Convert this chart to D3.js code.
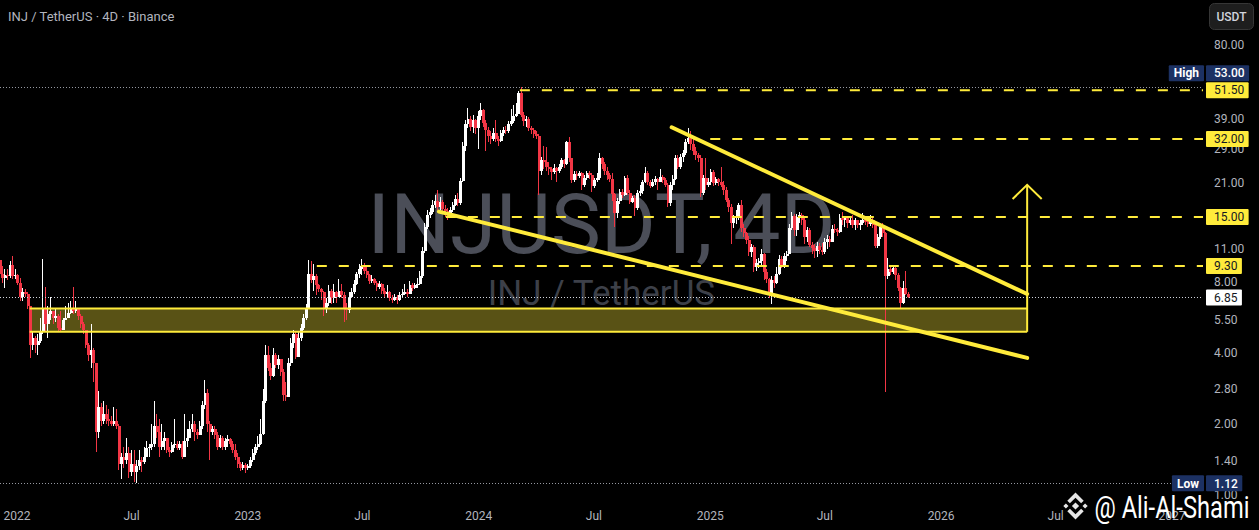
<!DOCTYPE html>
<html><head><meta charset="utf-8">
<script src="https://cdn.jsdelivr.net/npm/d3@7"></script>
<style>html,body{margin:0;padding:0;background:#000;overflow:hidden}text{font-family:Roboto,"Liberation Sans",sans-serif}</style>
</head><body><svg id="c" width="1259" height="530"></svg>
<script>
// ---------------- DATA ----------------
const startDate = "2021-12-05";   // first 4D candle
const stepDays = 4;
const firstOpen = 9.9;
const closes = [
8.6,8.3,8.5,8.4,9.4,8.4,8.5,7.9,6.9,7.2,
7.1,6.3,4.3,4.6,4.3,4.5,4.9,6.1,5.3,5.8,
6.0,5.6,5.7,5.1,5.0,5.5,5.6,5.9,6.2,6.0,
6.1,5.7,5.3,5.0,4.3,3.9,4.1,3.6,1.85,2.35,
2.05,2.2,2.1,2.05,2.0,2.05,1.95,1.35,1.45,1.4,
1.5,1.25,1.35,1.25,1.32,1.4,1.38,1.45,1.58,1.6,
1.65,1.95,1.85,1.6,1.7,1.75,1.55,1.52,1.62,1.65,
1.58,1.64,1.45,1.7,1.75,1.9,2.0,1.85,1.8,1.95,
2.4,2.7,2.0,1.85,1.9,1.8,1.6,1.75,1.6,1.7,
1.72,1.65,1.55,1.45,1.35,1.3,1.34,1.3,1.32,1.4,
1.5,1.6,1.65,1.82,2.5,3.9,3.45,3.2,3.9,3.55,
3.75,3.3,2.65,2.6,3.6,4.4,4.8,3.85,4.6,5.1,
5.6,6.2,8.6,8.1,8.4,7.7,7.4,7.2,6.1,6.5,
7.3,6.8,7.2,6.9,7.3,7.0,6.2,6.05,6.9,7.2,
7.8,8.6,9.0,9.3,8.9,8.5,8.0,8.2,7.9,7.6,
7.8,7.3,7.1,7.2,6.8,6.7,6.9,6.7,7.0,7.1,
7.2,7.1,7.7,7.5,7.7,7.8,8.4,10.8,13.6,15.3,
15.8,16.8,17.5,16.5,17.3,16.2,15.9,15.4,16.1,16.8,
17.8,17.1,21.3,30,37,39,36,38.5,35.5,40,
42.5,37.5,35,33,32,34,32,31.5,34,35,
34.5,37,38,40,41,50,40.5,38,39,35.5,
35,33.5,33,23.5,26,25.5,24.5,23.8,23.2,24.2,
23.5,24.5,26,25,31,26.5,21.5,22.8,22.3,23,
20.5,22,23,22.5,20.2,21.5,22,26.5,25,23.5,
22.5,21.8,18.8,15.6,17.5,19.2,18.5,22,19,17.4,
18,16.3,19,19.3,21,23,21,20.3,21,21.7,
21.1,22.2,21.4,20.5,17.2,20.5,21.8,26.5,24.5,27,
28,31,32.5,30.5,28.5,27.5,26.5,19,22,20.5,
21,23.2,20.8,21.8,21,20.5,19.5,17.7,16.5,14.1,
14.8,15.2,16.8,13.4,12.8,12,10.7,11.2,9.2,9.6,
9.8,10.5,8.8,8.2,7.0,8.1,7.9,8.6,10.0,9.2,
10.3,10.5,13.5,15.2,13.2,15,15.3,14.5,12.3,13.2,
11.4,11.1,10.8,11.3,10.9,10.7,11.7,12.1,11.8,13.3,
13.2,13,14.9,14.5,14.8,14.2,14.6,13.9,14.5,13.9,
14.2,14.6,14.3,14.0,14.6,13.9,11.3,12.3,13.6,12.8,
8.4,9.0,8.8,9.1,8.5,7.5,6.5,7.5,7.1,6.85];
const highs = [
12.9,9.3,9.0,9.0,9.8,10.3,9.0,8.6,8.3,7.5,
7.4,7.2,6.3,4.9,4.7,4.8,5.6,10.0,7.6,6.3,
6.9,6.0,6.2,5.8,6.0,5.6,6.3,6.5,6.6,7.6,
6.6,6.2,5.8,5.4,5.0,4.4,5.3,4.2,3.6,2.75,
2.45,2.5,2.4,2.3,2.15,2.35,2.3,2.0,1.5,1.6,
1.75,1.6,1.55,1.55,1.4,1.55,1.45,1.6,1.7,1.65,
2.0,2.5,2.2,2.1,2.0,1.85,1.75,1.6,1.68,2.1,
1.7,1.7,1.7,2.2,1.9,2.05,2.2,2.05,1.9,2.05,
2.5,3.05,2.8,2.05,1.95,1.95,1.85,1.8,1.78,1.75,
1.8,1.75,1.7,1.65,1.5,1.38,1.38,1.36,1.35,1.45,
1.56,1.65,1.78,2.1,2.8,4.3,4.25,3.6,4.2,4.0,
3.9,3.75,3.4,3.0,3.8,4.6,5.0,4.9,4.9,5.3,
5.8,6.4,9.9,9.8,9.5,8.6,7.8,7.5,7.3,6.8,
7.7,7.4,7.8,7.3,8.2,7.8,7.2,6.5,7.2,7.5,
8.1,8.8,9.5,10.0,9.6,9.3,8.6,8.5,8.3,8.0,
8.0,7.9,7.5,7.7,7.3,7.0,7.1,7.0,7.2,7.4,
7.8,7.4,8.0,7.9,7.9,8.3,8.9,11.2,14.2,16.0,
16.3,17.6,18.5,19.5,18.2,17.6,16.8,16.3,16.5,17.3,
18.6,18.9,22.0,31,38.5,43.3,40,40.5,39,42,
45.5,43,38.5,36,34.5,35.5,38.5,33,35,36,
36.5,38,43,44.5,45.5,51,53,41.5,40,39.5,
36.5,35.5,34.5,33.5,27,30,29.5,25.5,24.5,25,
24.5,25,26.5,26.3,31.5,32.7,26.5,23.5,23.5,23.5,
23.3,22.5,23.5,23.5,23,22,23,28,27,25.5,
24.5,23,23,19,18,19.7,19.6,22.3,22.5,19.5,
18.3,18.5,19.5,20.5,21.5,24.5,23.5,21.5,21.6,22.3,
22,23.8,22.5,22,20.8,21,22.5,27.3,27.5,27.8,
28.8,32,35.5,34.5,33,29.5,28,27.5,22.5,26.6,
22,23.8,23.6,22.2,22,24.5,21.2,20,18,17,
15.3,16,17.2,17.6,14,13,12.5,11.5,11.4,10,
10.1,11,10.6,9.0,8.3,8.4,8.4,9.2,10.4,10.3,
10.6,10.8,14,15.8,15.5,15.5,15.8,15.6,14.8,13.6,
13.5,11.8,11.5,11.8,11.6,11.6,12.2,12.6,12.5,13.8,
14,13.5,15.5,15.8,15.2,15,15,15.3,14.9,14.6,
14.6,15.6,15.2,14.8,15.3,15,14.1,12.7,14,14.2,
13.0,10.1,9.4,9.3,9.4,8.7,7.6,8.0,8.9,7.2];
const lows = [
8.3,7.9,7.5,8.1,8.3,8.2,8.2,7.7,6.6,6.6,
6.9,6.1,3.8,4.1,4.0,3.9,4.4,4.8,4.9,4.6,
5.5,5.3,5.4,4.9,4.9,5.2,5.5,5.6,5.8,5.8,
5.9,5.5,5.1,4.8,4.2,3.7,3.45,3.0,1.52,1.75,
1.95,2.0,2.0,1.95,1.95,1.95,1.9,1.28,1.17,1.3,
1.35,1.18,1.2,1.13,1.12,1.28,1.25,1.35,1.45,1.45,
1.55,1.6,1.75,1.45,1.55,1.55,1.5,1.45,1.5,1.58,
1.55,1.55,1.42,1.45,1.6,1.75,1.85,1.7,1.72,1.8,
1.9,2.3,1.85,1.4,1.8,1.72,1.55,1.58,1.55,1.55,
1.6,1.6,1.5,1.4,1.3,1.26,1.28,1.24,1.27,1.3,
1.38,1.48,1.55,1.62,1.8,2.45,3.35,3.05,3.15,3.45,
3.4,3.2,2.5,2.5,2.6,3.5,4.2,3.75,3.85,4.5,
5.0,5.5,6.1,7.9,7.3,7.0,7.2,6.7,5.7,5.9,
6.3,6.4,6.5,6.5,6.9,6.8,5.4,5.5,5.9,6.8,
7.1,7.7,8.3,8.5,8.6,8.3,7.8,7.9,7.7,7.3,
7.4,7.1,6.8,6.9,6.6,6.5,6.6,6.4,6.6,6.9,
7.0,6.9,7.1,7.3,7.4,7.5,7.7,8.3,10.6,13.3,
14.8,15.4,16.3,16.0,16.1,15.7,15.0,14.6,15.0,15.8,
16.6,16.7,16.9,21,28.5,35.5,34.5,34,33.5,29,
38.5,36,28.5,31,30.5,31.5,31,30,31,33,
33.5,34,36.5,37.5,39.5,41,39.5,36.5,36,34.5,
33.5,32.5,32,18.5,22.5,24,23.5,22.5,21.5,22.8,
21,23,24,24.2,24.8,25.5,20.8,21,21.5,22,
19.5,20,21.5,21.8,19.2,19.8,21,21.5,24,22.5,
21.5,21,17.5,13.6,14.8,17,18,18.3,18.5,17,
17.2,15.1,16,18.4,18.8,20.8,20.5,19.8,20,20.5,
19.5,21,20.8,20,16.5,16.6,19.5,21.5,24,24,
25.5,27.5,30.5,28.8,27.5,26,25.5,18.2,18.5,19.5,
20,20.5,20.3,20.5,20.3,20,18.5,17.3,15.8,11.5,
13.5,14,14.6,13,12.3,11.5,10.3,10.2,8.8,8.9,
9.1,9.4,8.1,7.9,6.8,6.4,7.5,7.8,8.5,9.1,
9.1,9.8,10.5,13.2,12.4,12.5,14.2,13.8,11.5,11.8,
11.2,10.5,10.1,10.2,10.5,10.4,10.5,11,11.2,11.8,
12.8,12.5,12.8,13.8,13.6,13.5,13.9,13.4,13.2,13.4,
13.2,13.9,13.8,13.6,13.7,13.4,11.1,11.1,12.1,12.3,
2.73,8.2,8.5,8.6,8.1,7.3,6.1,6.4,7.0,6.8];

const priceTicks = [80, 39, 29, 21, 11, 8, 5.5, 4, 2.8, 2, 1.4, 1];
const timeTickDates = ["2022-01-01","2022-07-01","2023-01-01","2023-07-01","2024-01-01","2024-07-01","2025-01-01","2025-07-01","2026-01-01","2026-07-01","2027-01-01"];
const timeTickLabels = ["2022","Jul","2023","Jul","2024","Jul","2025","Jul","2026","Jul","2027"];

// horizontal levels drawn on the chart: price and the date where each starts
const levelPrices = [51.5, 32, 15, 9.3];
const levelStarts = ["2024-03-06", "2025-01-01", "2023-11-10", "2023-04-20"];
// support zone
const zoneLow = 4.9, zoneHigh = 6.15, zoneStart = "2022-01-21", zoneEnd = "2026-05-17";
// trendlines [date, price]
const upperTrend = [["2024-11-01", 35.9], ["2026-05-17", 7.08]];
const lowerTrend = [["2023-10-30", 15.8], ["2026-05-17", 3.8]];
// target arrow
const arrowDate = "2026-05-17", arrowFrom = 4.9, arrowTip = 20.5, arrowWing = 17.86, arrowWingDays = 23;
const highPrice = 53.00, lowPrice = 1.12, lastPrice = 6.85;

// ---------------- CHART ----------------
const W = 1259, H = 530, plotRight = 1203, plotBottom = 503;
const YEL = "#ffeb3b";
const parse = d3.utcParse("%Y-%m-%d");
const svg = d3.select("#c");
const x = d3.scaleUtc().domain([parse("2022-01-01"), parse("2027-01-01")]).range([17, 1172]);
const y = d3.scaleLog().domain([1, 80]).range([495, 45]);

const t0 = parse(startDate);
const candles = closes.map((c, i) => {
  const o = i ? closes[i - 1] : firstOpen;
  return { d: d3.utcDay.offset(t0, i * stepDays), o, c,
           h: Math.max(highs[i], o, c), l: Math.min(lows[i], o, c) };
});

svg.append("rect").attr("width", W).attr("height", H).attr("fill", "#000");
svg.append("defs").append("clipPath").attr("id", "plot")
  .append("rect").attr("x", 0).attr("y", 0).attr("width", plotRight).attr("height", plotBottom);

// watermark
const cx = plotRight / 2;
svg.append("text").attr("x", cx).attr("y", 253).attr("text-anchor", "middle")
  .attr("font-size", 84).attr("fill", "#4b4e58").text("INJUSDT, 4D");
svg.append("text").attr("x", cx).attr("y", 305).attr("text-anchor", "middle")
  .attr("font-size", 35).attr("fill", "#3d4049").text("INJ / TetherUS");

const plot = svg.append("g").attr("clip-path", "url(#plot)");

// zone fill
plot.append("rect")
  .attr("x", x(parse(zoneStart))).attr("width", x(parse(zoneEnd)) - x(parse(zoneStart)))
  .attr("y", y(zoneHigh)).attr("height", y(zoneLow) - y(zoneHigh))
  .attr("fill", YEL).attr("fill-opacity", 0.35);

// candles
const cg = plot.append("g").attr("shape-rendering", "crispEdges");
const col = d => d.c >= d.o ? "#ffffff" : "#f23645";
cg.selectAll("rect.w").data(candles).join("rect").attr("class", "w")
  .attr("x", d => Math.round(x(d.d) - 0.5)).attr("width", 1)
  .attr("y", d => y(d.h)).attr("height", d => Math.max(1, y(d.l) - y(d.h)))
  .attr("fill", col);
cg.selectAll("rect.b").data(candles).join("rect").attr("class", "b")
  .attr("x", d => Math.round(x(d.d) - 1.25)).attr("width", 2.5)
  .attr("y", d => y(Math.max(d.o, d.c)))
  .attr("height", d => Math.max(1, y(Math.min(d.o, d.c)) - y(Math.max(d.o, d.c))))
  .attr("fill", col);

// dotted high / low / last lines
[[highPrice, "#9598a1"], [lowPrice, "#9598a1"], [lastPrice, "#d1d4dc"]].forEach(([p, c]) => {
  plot.append("line").attr("x1", 0).attr("x2", plotRight).attr("y1", Math.round(y(p)) + 0.5).attr("y2", Math.round(y(p)) + 0.5)
    .attr("stroke", c).attr("stroke-width", 1).attr("stroke-dasharray", "1,2");
});

// dashed yellow levels
levelPrices.forEach((p, i) => {
  plot.append("line").attr("x1", x(parse(levelStarts[i]))).attr("x2", plotRight)
    .attr("y1", y(p)).attr("y2", y(p)).attr("stroke", YEL).attr("stroke-width", 2)
    .attr("stroke-dasharray", "10,12");
});

// zone borders
const zx1 = x(parse(zoneStart)), zx2 = x(parse(zoneEnd));
[zoneHigh, zoneLow].forEach(p => plot.append("line").attr("x1", zx1).attr("x2", zx2)
  .attr("y1", y(p)).attr("y2", y(p)).attr("stroke", YEL).attr("stroke-width", 2));

// arrow
const ad = parse(arrowDate);
plot.append("line").attr("x1", x(ad)).attr("x2", x(ad)).attr("y1", y(arrowFrom)).attr("y2", y(arrowTip))
  .attr("stroke", YEL).attr("stroke-width", 2);
plot.append("path").attr("fill", "none").attr("stroke", YEL).attr("stroke-width", 2)
  .attr("d", d3.line()([[x(d3.utcDay.offset(ad, -arrowWingDays)), y(arrowWing)], [x(ad), y(arrowTip)],
                        [x(d3.utcDay.offset(ad, arrowWingDays)), y(arrowWing)]]));

// trendlines
[upperTrend, lowerTrend].forEach(tl => {
  plot.append("line")
    .attr("x1", x(parse(tl[0][0]))).attr("y1", y(tl[0][1]))
    .attr("x2", x(parse(tl[1][0]))).attr("y2", y(tl[1][1]))
    .attr("stroke", YEL).attr("stroke-width", 4).attr("stroke-linecap", "round");
});

// price axis labels
const ax = svg.append("g");
ax.selectAll("text").data(priceTicks).join("text")
  .attr("x", 1214).attr("y", d => y(d)).attr("dy", "0.35em")
  .attr("font-size", 12).attr("fill", "#b2b5be").text(d => d.toFixed(2));

function valueBox(p, yc, fill, textFill, bold) {
  const g = svg.append("g");
  const r = g.append("rect").attr("x", 1206).attr("y", yc - 8).attr("height", 16).attr("fill", fill).attr("rx", 1);
  const t = g.append("text").attr("x", 1214).attr("y", yc).attr("dy", "0.35em")
    .attr("font-size", 12).attr("fill", textFill).attr("font-weight", bold ? 500 : 400).text(p.toFixed(2));
  r.attr("width", t.node().getComputedTextLength() + 12.5);
}
function sideBox(label, yc) {
  const g = svg.append("g");
  const r = g.append("rect").attr("y", yc - 8).attr("height", 16).attr("fill", "#1c3163").attr("rx", 1);
  const t = g.append("text").attr("x", 1199).attr("y", yc).attr("dy", "0.35em").attr("text-anchor", "end")
    .attr("font-size", 12).attr("font-weight", 700).attr("fill", "#fff").text(label);
  const w = t.node().getComputedTextLength() + 10;
  r.attr("x", 1204 - w).attr("width", w);
}
levelPrices.forEach(p => valueBox(p, y(p), YEL, "#131722", false));
valueBox(lastPrice, y(lastPrice), "#ffffff", "#131722", false);
const highY = Math.min(y(highPrice), y(levelPrices[0]) - 17);
valueBox(highPrice, highY, "#1c3163", "#ffffff", true);
sideBox("High", highY);
valueBox(lowPrice, y(lowPrice), "#1c3163", "#ffffff", true);
sideBox("Low", y(lowPrice));

// time axis labels
svg.append("g").selectAll("text").data(timeTickDates).join("text")
  .attr("x", d => x(parse(d))).attr("y", 516).attr("dy", "0.35em").attr("text-anchor", "middle")
  .attr("font-size", 12).attr("fill", "#b2b5be").text((d, i) => timeTickLabels[i]);

// title
svg.append("text").attr("x", 8).attr("y", 21).attr("font-size", 13).attr("fill", "#b2b5be")
  .text("INJ / TetherUS · 4D · Binance");

// USDT button
svg.append("rect").attr("x", 1209.5).attr("y", 3.5).attr("width", 44).attr("height", 26).attr("rx", 5)
  .attr("fill", "#1e1e1e").attr("stroke", "#363636");
svg.append("text").attr("x", 1231.5).attr("y", 16.5).attr("dy", "0.35em").attr("text-anchor", "middle")
  .attr("font-size", 12).attr("font-weight", 500).attr("fill", "#d1d4dc").text("USDT");

// signature with Binance mark
const sg = svg.append("g").attr("fill", "#e6e6e6");
const lg = sg.append("g").attr("transform", "translate(1075.5,506)");
const dia = (cxp, cyp, r) => `M${cxp},${cyp - r}L${cxp + r},${cyp}L${cxp},${cyp + r}L${cxp - r},${cyp}Z`;
lg.append("path").attr("d", dia(0, 0, 3.6) + dia(-9.6, 0, 2.6) + dia(9.6, 0, 2.6)
  + "M0,-13.5L8.2,-5.3L5.6,-2.7L0,-8.3L-5.6,-2.7L-8.2,-5.3Z"
  + "M0,13.5L8.2,5.3L5.6,2.7L0,8.3L-5.6,2.7L-8.2,5.3Z");
const st = sg.append("text").attr("font-family", "'Liberation Sans',Arial,sans-serif")
  .attr("font-size", 31).attr("fill", "#ffffff").text("@ Ali-Al-Shami");
const sw = st.node().getComputedTextLength();
st.attr("transform", `translate(1094.5,517.5) scale(${155 / sw},1)`);
</script>
</body></html>
